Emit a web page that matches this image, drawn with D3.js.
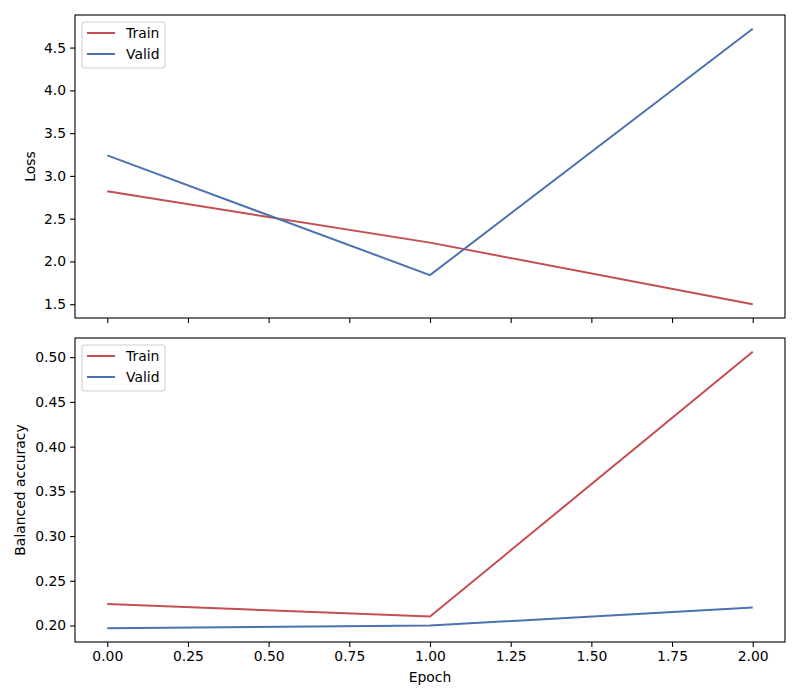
<!DOCTYPE html>
<html>
<head>
<meta charset="utf-8">
<script src="https://cdn.jsdelivr.net/npm/d3@7"></script>
<style>
body { margin: 0; background: #fff; }
text { font-family: "DejaVu Sans", sans-serif; }
</style>
</head>
<body>
<svg id="chart" width="800" height="700"></svg>
<script>
// data

var epochs = [0, 1, 2];
var trainLoss = [2.82, 2.22, 1.50];
var validLoss = [3.24, 1.84, 4.72];
var trainAcc = [0.224, 0.210, 0.506];
var validAcc = [0.197, 0.200, 0.220];
var xTicks = [0, 0.25, 0.5, 0.75, 1, 1.25, 1.5, 1.75, 2];
var lossTicks = [1.5, 2.0, 2.5, 3.0, 3.5, 4.0, 4.5];
var accTicks = [0.20, 0.25, 0.30, 0.35, 0.40, 0.45, 0.50];

var red = "#c44e52", blue = "#4c72b0";
var fs = 13.9;
var svg = d3.select("#chart");

var left = 75, right = 785;

var x = d3.scaleLinear().domain([-0.1, 2.1]).range([left, right]);

// pad y domain by 5% like matplotlib
function padded(a, b)
{
  var all = a.concat(b);
  var lo = d3.min(all), hi = d3.max(all), m = (hi - lo) * 0.05;
  return [lo - m, hi + m];
}

function panel(top, bottom, train, valid, ticks, fmt, label, labelX, showX)
{
  var y = d3.scaleLinear().domain(padded(train, valid)).range([bottom, top]);
  var g = svg.append("g");

  var line = d3.line().x(function(d, i) { return x(epochs[i]); }).y(function(d) { return y(d); });

  g.append("path").attr("d", line(train)).attr("fill", "none")
    .attr("stroke", red).attr("stroke-width", 2);
  g.append("path").attr("d", line(valid)).attr("fill", "none")
    .attr("stroke", blue).attr("stroke-width", 2);

  // axes

  var xa = g.append("g").attr("transform", "translate(0," + bottom + ")")
    .call(d3.axisBottom(x).tickValues(xTicks).tickSize(4.9).tickPadding(4)
      .tickFormat(showX ? d3.format(".2f") : ""));
  var ya = g.append("g").attr("transform", "translate(" + left + ",0)")
    .call(d3.axisLeft(y).tickValues(ticks).tickSize(4.9).tickPadding(4).tickFormat(d3.format(fmt)));

  [xa, ya].forEach(function(a) {
    a.select(".domain").remove();
    a.selectAll("text").attr("font-size", fs).attr("fill", "#000").style("font-family", "DejaVu Sans");
    a.selectAll("line").attr("stroke", "#000").attr("stroke-width", 1.1);
  });

  g.append("rect").attr("x", left).attr("y", top)
    .attr("width", right - left).attr("height", bottom - top)
    .attr("fill", "none").attr("stroke", "#000").attr("stroke-width", 1.1);

  g.append("text")
    .attr("transform", "translate(" + labelX + "," + ((top + bottom) / 2) + ") rotate(-90)")
    .attr("text-anchor", "middle").attr("font-size", fs).text(label);

  // legend

  var lg = g.append("g").attr("transform", "translate(" + (left + 7) + "," + (top + 7) + ")");
  lg.append("rect").attr("width", 83).attr("height", 46).attr("rx", 3)
    .attr("fill", "#fff").attr("fill-opacity", 0.8).attr("stroke", "#d0d0d0").attr("stroke-width", 1.1);
  [["Train", red], ["Valid", blue]].forEach(function(s, i) {
    var yy = 11 + i * 21;
    lg.append("line").attr("x1", 5).attr("x2", 33).attr("y1", yy).attr("y2", yy)
      .attr("stroke", s[1]).attr("stroke-width", 2);
    lg.append("text").attr("x", 44).attr("y", yy + 5).attr("font-size", fs).text(s[0]);
  });
}

panel(15, 318, trainLoss, validLoss, lossTicks, ".1f", "Loss", 35, false);
panel(338, 642, trainAcc, validAcc, accTicks, ".2f", "Balanced accuracy", 25, true);

svg.append("text").attr("x", (left + right) / 2).attr("y", 682)
  .attr("text-anchor", "middle").attr("font-size", fs).text("Epoch");
</script>
</body>
</html>
